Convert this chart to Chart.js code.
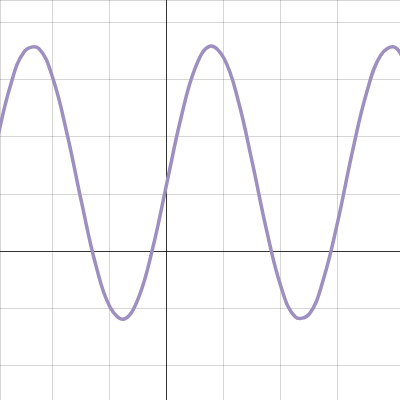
<!DOCTYPE html>
<html>
<head>
<meta charset="utf-8">
<script src="https://cdn.jsdelivr.net/npm/chart.js@4"></script>
<style>
  html, body { margin: 0; padding: 0; background: #fff; }
  #wrap { width: 400px; height: 400px; }
</style>
</head>
<body>
<div id="wrap"><canvas id="c"></canvas></div>
<script>
// values, every quarter unit
const xValues = [-3, -2.75, -2.5, -2.25, -2, -1.75, -1.5, -1.25, -1, -0.75, -0.5, -0.25,
  0, 0.25, 0.5, 0.75, 1, 1.25, 1.5, 1.75, 2, 2.25, 2.5, 2.75, 3, 3.25, 3.5, 3.75, 4, 4.25];
const yValues = [1.87, 2.89, 3.50, 3.55, 3.02, 2.04, 0.86, -0.24, -0.98, -1.19, -0.82, 0.05,
  1.2, 2.35, 3.22, 3.59, 3.38, 2.64, 1.54, 0.36, -0.62, -1.15, -1.10, -0.48, 0.53, 1.72, 2.76, 3.43, 3.57, 3.14];

const gridColor = ctx => ctx.tick.value === 0 ? 'rgba(0,0,0,0.8)' : 'rgba(0,0,0,0.16)';

new Chart(document.getElementById('c'), {
  type: 'line',
  data: {
    datasets: [{
      data: xValues.map((x, i) => ({ x, y: yValues[i] })),
      borderColor: '#9d8fc0',
      borderWidth: 3.5,
      pointRadius: 0,
      tension: 0.4,
      fill: false,
    }],
  },
  options: {
    responsive: true,
    maintainAspectRatio: false,
    animation: false,
    layout: { padding: 0 },
    plugins: { legend: { display: false }, tooltip: { enabled: false } },
    scales: {
      x: {
        type: 'linear', min: -2.93, max: 4.09,
        ticks: { display: false, stepSize: 1 },
        grid: { color: gridColor, drawTicks: false, lineWidth: 1 },
        border: { display: false },
        afterFit: s => { s.height = 0; },
      },
      y: {
        min: -2.61, max: 4.4,
        ticks: { display: false, stepSize: 1 },
        grid: { color: gridColor, drawTicks: false, lineWidth: 1 },
        border: { display: false },
        afterFit: s => { s.width = 0; },
      },
    },
  },
});
</script>
</body>
</html>
